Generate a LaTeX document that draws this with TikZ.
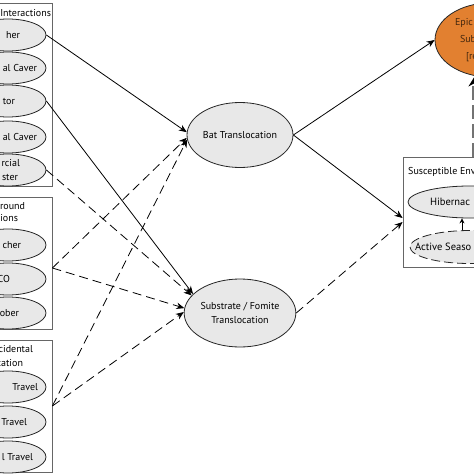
\documentclass[tikz,border=0pt]{standalone}
\usepackage{fontspec}
\setmainfont{PT Sans}
\usetikzlibrary{arrows.meta,shapes.geometric}
\definecolor{epiorange}{RGB}{226,128,48}
% text that runs past the picture edge: end (R) or start (L) given from the node centre
\newcommand{\cutR}[2]{\makebox[0pt][l]{\hspace{#1}\llap{#2}}}
\newcommand{\cutL}[2]{\makebox[0pt][l]{\hspace{#1}#2}}

\tikzset{
  oval/.style={ellipse,draw=black!85,fill=gray!18,line width=0.8pt,inner sep=0pt,
    minimum width=76pt,minimum height=32pt},
  group/.style={rectangle,draw=black!60,line width=0.8pt,minimum width=62pt},
  title/.style={inner sep=0pt,align=center},
  link/.style={-{Stealth[length=8pt,width=6.5pt]},line width=0.8pt},
  dlink/.style={link,dash pattern=on 9pt off 5pt},
  heavy/.style={-{Stealth[black,length=9pt,width=11pt]},line width=5pt,draw=black!55,
    dash pattern=on 14pt off 5pt},
}

\begin{document}
\begin{tikzpicture}[x=1pt,y=-1pt,font=\fontsize{10}{13.5}\selectfont]
\useasboundingbox (0,0) rectangle (474,474);
\clip (0,0) rectangle (474,474);

% left groups
\node at (21,94.5) [group,minimum height=183pt] (ib) {};
\node at (0,13) [title] (it) {\cutR{51pt}{Interactions}};
\node at (8,35) [oval] (i1) {\cutR{12pt}{her}};
\node at (8,68) [oval] (i2) {\cutR{29pt}{al Caver}};
\node at (8,101) [oval] (i3) {\cutR{7pt}{tor}};
\node at (8,137) [oval] (i4) {\cutR{29pt}{al Caver}};
\node at (8,170) [oval,align=center] (i5) {\cutR{12pt}{rcial}\\\cutR{10pt}{ster}};

\node at (21,263) [group,minimum height=132pt] (gb) {};
\node at (0,212) [title,font=\fontsize{10}{12.5}\selectfont] (gt) {\cutR{25pt}{round}\\\cutR{18pt}{tions}};
\node at (8,245) [oval] (g1) {\cutR{13pt}{cher}};
\node at (8,279) [oval] (g2) {\cutR{2pt}{CO}};
\node at (8,313) [oval] (g3) {\cutR{11pt}{ober}};

\node at (21,406) [group,minimum height=132pt] (cb) {};
\node at (0,356) [title] (ct) {\cutR{33pt}{cidental}\\\cutR{23pt}{cation}};
\node at (8,387) [oval] (c1) {\cutR{30pt}{Travel}};
\node at (8,422) [oval] (c2) {\cutR{19pt}{Travel}};
\node at (8,457) [oval] (c3) {\cutR{25pt}{l Travel}};

% middle
\node at (240,135) [oval,minimum width=106pt,minimum height=65pt] (bat) {Bat Translocation};
\node at (240,313) [oval,minimum width=107pt,minimum height=68pt,align=center,
  font=\fontsize{10}{14}\selectfont] (sub) {Substrate / Fomite\\Translocation};

% right
\node at (490,40) [oval,fill=epiorange,minimum width=110pt,minimum height=74pt,align=center,
  text=black!70!epiorange,font=\fontsize{10}{17}\selectfont] (epi)
  {\cutL{-35pt}{Epic}\\\cutL{-30pt}{Sub}\\\cutL{-24pt}{[re}};
\node at (474,212) [group,minimum width=142pt,minimum height=110pt] (env) {};
\node at (408,172) [title,anchor=west] (et) {Susceptible Env};
\node at (470,202) [oval,minimum width=124pt,minimum height=32pt,
  font=\fontsize{10.5}{13}\selectfont] (hib) {\cutL{-40pt}{Hibernac}};
\node at (470,247) [oval,dash pattern=on 9pt off 4pt,minimum width=120pt,minimum height=33pt,
  font=\fontsize{10.5}{13}\selectfont] (act) {\cutL{-55pt}{Active Seaso}};

\draw[link] (i1.east) -- (bat.177);
\draw[link] (i3.east) -- (sub.158);
\draw[dlink] (i5.east) -- (sub.160);
\draw[dlink] ([yshift=-5pt]gb.east) -- (bat.183);
\draw[dlink] ([yshift=-5pt]gb.east) -- (sub.175);
\draw[dlink] (cb.east) -- (bat.185);
\draw[dlink] (cb.east) -- (sub.179);
\draw[link] (bat.east) -- (epi.west);
\draw[link] (bat.east) -- ([yshift=-6pt]env.west);
\draw[dlink] (sub.east) -- ([yshift=-10pt]env.west);
\draw[link,-{Stealth[length=5pt,width=5pt]}] ([xshift=-8pt]act.north) -- ([xshift=-8pt]hib.south);
\draw[heavy] (env.north) -- (env.north |- epi.south);
\end{tikzpicture}
\end{document}
